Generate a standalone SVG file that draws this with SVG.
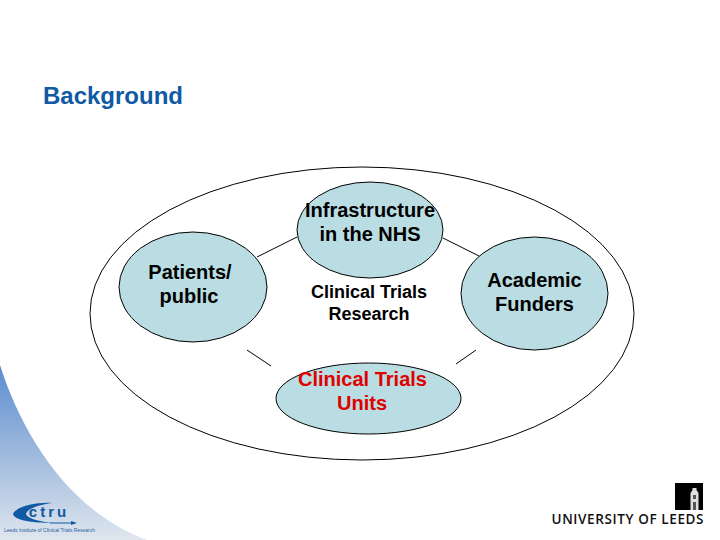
<svg xmlns="http://www.w3.org/2000/svg" width="720" height="540" viewBox="0 0 720 540">
<defs>
<linearGradient id="sw" x1="0" y1="0" x2="0" y2="1"><stop offset="0" stop-color="#5b8cd0"/><stop offset="0.5" stop-color="#9db9dd"/><stop offset="1" stop-color="#dfe6ee"/></linearGradient>
</defs>
<style>
text{font-family:"Liberation Sans",Arial,sans-serif;text-anchor:middle;fill:#000;font-weight:700}
.n{fill:#b9dde2;stroke:#000;stroke-width:1}
.c{stroke:#000;stroke-width:1;fill:none}
.t{font-size:20px}
.s{font-size:18px}
.r{fill:#e00000}
</style>
<rect width="720" height="540" fill="#fff"/>
<g id="swoosh"><path d="M0 365C22 435 70 512 147 540L0 540Z" fill="url(#sw)"/></g>
<text x="113" y="104" style="font-size:24px;fill:#0f5aa3">Background</text>
<ellipse id="outer" class="c" cx="362" cy="313.5" rx="272" ry="146.5"/>
<g id="connectors">
<path class="c" d="M257 257L297 237M443 238L479 256M247 350L271 366M456 364L476 350"/>
</g>
<g id="patients"><ellipse class="n" cx="193" cy="287" rx="74" ry="55"/><text class="t" x="190" y="279">Patients/</text><text class="t" x="189" y="303">public</text></g>
<g id="infrastructure"><ellipse class="n" cx="370" cy="230" rx="73" ry="48"/><text class="t" x="370" y="217">Infrastructure</text><text class="t" x="370" y="241">in the NHS</text></g>
<g id="research"><text class="s" x="369" y="298">Clinical Trials</text><text class="s" x="369" y="320">Research</text></g>
<g id="funders"><ellipse class="n" cx="534.500" cy="293.500" rx="73.500" ry="56.500"/><text class="t" x="534.500" y="287">Academic</text><text class="t" x="534.500" y="311">Funders</text></g>
<g id="units"><ellipse class="n" cx="368.500" cy="398.500" rx="92.500" ry="35.500"/><text class="t r" x="362.500" y="386">Clinical Trials</text><text class="t r" x="362" y="410">Units</text></g>
<g id="ctru">
<path d="M13 514C16 507 34 502 52 503C38 505 27 509 26 514C27 518 36 521 52 523C32 523 14 520 13 514Z" fill="#0f5aa3"/>
<text x="49" y="517" style="font-size:15px;fill:#0f5aa3;letter-spacing:3px">ctru</text>
<path d="M50 523H74" stroke="#0f5aa3" stroke-width="1"/><path d="M71 521L77 523L71 525Z" fill="#0f5aa3"/>
<text x="49.500" y="532" textLength="91" style="font-size:5px;font-weight:400;fill:#2a5f9e">Leeds Institute of Clinical Trials Research</text>
</g>
<g id="leeds">
<rect x="675" y="483" width="28" height="27" fill="#000"/>
<path d="M690.500 510V493l2-3v-2h4v2l2 3v17Z" fill="#ddd"/>
<path d="M693 495h3v4h-3ZM693 502h3v8h-3Z" fill="#555"/>
<text x="627.500" y="524" textLength="152" style="font-family:'Open Sans','Liberation Sans',sans-serif;font-size:13.500px;font-weight:600;fill:#111">UNIVERSITY OF LEEDS</text>
</g>
</svg>
